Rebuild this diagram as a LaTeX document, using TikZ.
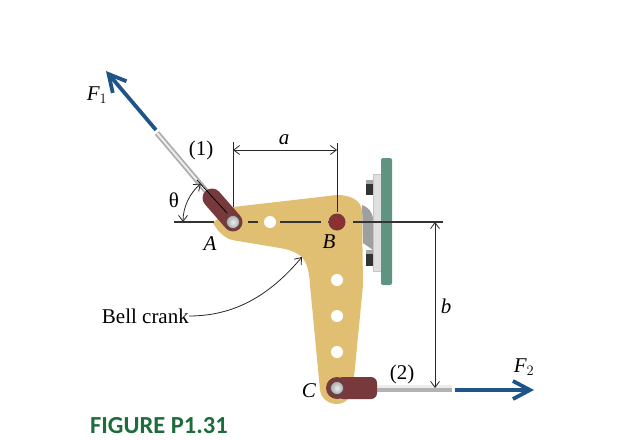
\documentclass[tikz,border=0pt]{standalone}
\usepackage{fontspec}
\setmainfont{Liberation Serif}
\newfontfamily\figfont{Carlito}
\usepackage{tikz}
\usetikzlibrary{arrows.meta}
\definecolor{crank}{HTML}{E0BF72}
\definecolor{linkred}{HTML}{77393C}
\definecolor{forceblue}{HTML}{1F5488}
\definecolor{wallgreen}{HTML}{5F9580}
\definecolor{figgreen}{HTML}{1E6B3C}
\tikzset{
  dimline/.style={draw=black!85, line width=0.8pt},
  dimarrow/.style={dimline, {Straight Barb[length=6pt,width=9pt]}-{Straight Barb[length=6pt,width=9pt]}},
  centerline/.style={draw=black!80, line width=1.1pt},
  force/.style={draw=forceblue, line width=3.8pt, -{Straight Barb[length=17pt,width=18pt,line width=3.8pt]}},
  hole/.style={circle, fill=white, minimum size=12pt, inner sep=0pt},
  pin/.style={circle, inner color=gray!15, outer color=gray!65, draw=black!70, line width=0.6pt, minimum size=#1, inner sep=0pt},
  lbl/.style={font=\fontsize{21}{24}\selectfont, inner sep=0pt},
}
\begin{document}
\begin{tikzpicture}[x=1pt,y=-1pt]
\useasboundingbox (0,0) rectangle (629,439);

\coordinate (pA) at (233,222);
\coordinate (pB) at (337,222);
\coordinate (pC) at (337,388);
\coordinate (rodAend) at (157,133);
\coordinate (linkAend) at (212,198);
\coordinate (forceAstart) at (156,130);
\coordinate (forceAtip) at (106,71);
\coordinate (rodCend) at (452,388);
\coordinate (forceCstart) at (455,390);
\coordinate (forceCtip) at (534,390);

% wall bracket
\fill[gray!75] (362,205) .. controls (368,207) and (373,212) .. (373,220) -- (373,250) -- (363,243) -- cycle;
\fill[black!80] (366,180) rectangle (373,195);
\fill[black!80] (366,250) rectangle (373,266);
\fill[gray!70] (366,180) rectangle (373,184);
\fill[gray!70] (366,250) rectangle (373,254);
\filldraw[fill=gray!25, draw=gray!45] (373,174) rectangle (381,271);
\fill[wallgreen, rounded corners=2pt] (381,158) rectangle (392,285);

% crank
\fill[crank] (233,207) -- (337,195)
  .. controls (350,195) and (362,200) .. (362,212)
  -- (363,285) -- (353,388)
  .. controls (352,397) and (345,404) .. (337,404)
  .. controls (328,404) and (321,398) .. (320,390)
  -- (310,285)
  .. controls (309,268) and (306,258) .. (296,253)
  .. controls (290,250) and (285,249) .. (280,248)
  -- (232,240)
  .. controls (225,238) and (218,232) .. (213,223)
  -- (225,212) -- cycle;

\foreach \hx/\hy [count=\hi] in {270/222, 337/280, 337/316, 337/352}
  \node[hole] (hole\hi) at (\hx,\hy) {};

% rods and links
\draw[line width=5.5pt, gray!65] (linkAend) -- (rodAend);
\draw[line width=2pt, gray!15] (linkAend) -- (rodAend);
\draw[line width=19pt, linkred, line cap=round] (pA) -- (linkAend);
\draw[line width=0.8pt, black] (197,180) -- (227,213);
\draw[line width=7pt, gray!60] (370,388) -- (rodCend);
\draw[line width=2.5pt, gray!15] (370,386.5) -- (452,386.5);
\fill[linkred, rounded corners=6pt] (337,377) rectangle (377,399);
\fill[linkred] (337,388) circle (11);

\node[pin=13pt] (pinA) at (pA) {};
\node[pin=13pt] (pinC) at (pC) {};
\node[circle, inner color=linkred!70!red, outer color=linkred, minimum size=17pt, inner sep=0pt] (pinB) at (pB) {};

% center line
\draw[centerline] (174,222) -- (214,222);
\draw[centerline] (248,222) -- (258,222);
\draw[centerline] (280,222) -- (321,222);
\draw[centerline] (353,222) -- (443,222);

% forces
\draw[force] (forceAstart) -- (forceAtip);
\draw[force] (forceCstart) -- (forceCtip);

% dimensions
\coordinate (dimaL) at (233,150);
\coordinate (dimaR) at (337,150);
\coordinate (dimbT) at (435,222);
\coordinate (dimbB) at (435,388);
\draw[dimline] (233,207) -- (233,142);
\draw[dimline] (337,212) -- (337,143);
\draw[dimarrow] (dimaL) -- (dimaR);
\draw[dimarrow] (dimbT) -- (dimbB);
\draw[dimarrow] (183,222) arc[start angle=180, end angle=230, radius=50];
\coordinate (crankTip) at (302,257);
\coordinate (bellStart) at (189,316);
\draw[dimline, -{Straight Barb[length=6pt,width=9pt]}] (bellStart) .. controls (235,316) and (270,295) .. (crankTip);

% labels
\node[lbl] (labF1) at (97,95) {$\mathit{F}_1$};
\node[lbl] (labF2) at (524,367) {$\mathit{F}_2$};
\node[lbl] (lab1) at (201,150) {(1)};
\node[lbl] (lab2) at (402,374) {(2)};
\node[lbl] (labtheta) at (174,200) {θ};
\node[lbl] (laba) at (284,140) {\textit{a}};
\node[lbl] (labb) at (446,306) {\textit{b}};
\node[lbl] (labA) at (210,244) {\textit{A}};
\node[lbl] (labB) at (329,242) {\textit{B}};
\node[lbl] (labC) at (309,391) {\textit{C}};
\node[lbl, anchor=east] (labBell) at (189,316) {Bell crank};
\node[anchor=west, inner sep=0pt, text=figgreen, font=\figfont\bfseries\fontsize{24.5}{27}\selectfont] (labFig) at (90,426) {FIGURE P1.31};
\end{tikzpicture}
\end{document}
